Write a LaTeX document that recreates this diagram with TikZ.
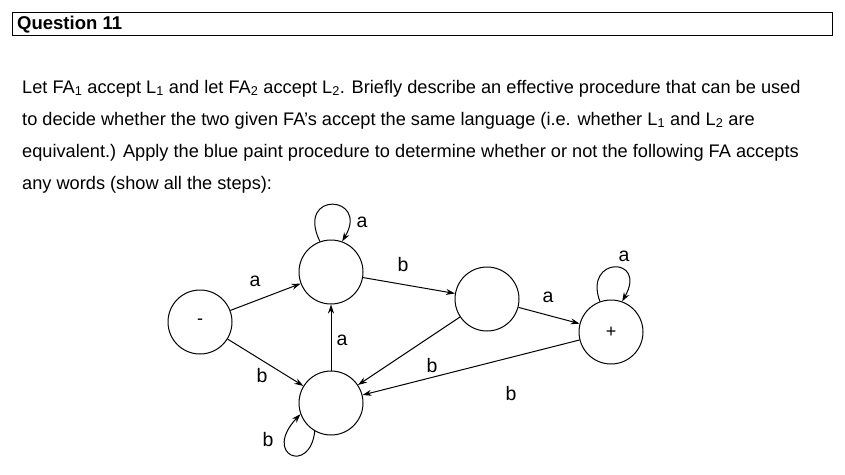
\documentclass[tikz,border=0pt]{standalone}
\usepackage{fontspec}
\setmainfont{Liberation Sans}
\usetikzlibrary{arrows.meta}
\begin{document}
\begin{tikzpicture}[x=1pt,y=-1pt,
  st/.style={draw,circle,minimum size=64pt,inner sep=0pt,line width=1pt,font=\fontsize{18}{20}\selectfont},
  tr/.style={line width=1pt,-{Stealth[length=9pt,width=6pt]}},
  lb/.style={font=\fontsize{19.5}{21}\selectfont,inner sep=0pt},
  txt/.style={anchor=base west,inner sep=0pt,font=\fontsize{18.2}{20}\selectfont}]
\useasboundingbox (0,0) rectangle (845,474);
\draw[line width=0.8pt] (12,12) rectangle (832,35);
\node[txt,font=\bfseries\fontsize{18.5}{20}\selectfont] (title) at (17,29) {Question 11};
\node[txt] (l1) at (22,93) {Let FA\textsubscript{1} accept L\textsubscript{1} and let FA\textsubscript{2} accept L\textsubscript{2}. Briefly describe an effective procedure that can be used};
\node[txt] (l2) at (22,125) {to decide whether the two given FA’s accept the same language (i.e. whether L\textsubscript{1} and L\textsubscript{2} are};
\node[txt] (l3) at (22,157) {equivalent.) Apply the blue paint procedure to determine whether or not the following FA accepts};
\node[txt] (l4) at (22,189) {any words (show all the steps):};
\node[st] (s) at (200,322) {-};
\node[st] (t) at (331,272) {};
\node[st] (m) at (487,299) {};
\node[st] (p) at (611,332) {+};
\node[st] (b) at (331,403) {};
\draw[tr] (s) -- (t);
\draw[tr] (s) -- (b);
\draw[tr] (b) -- (t);
\draw[tr] (t) -- (m);
\draw[tr] (m) -- (b);
\draw[tr] (m) -- (p);
\draw[tr] (p) -- (b);
\draw[tr] (t.110) .. controls (295,190) and (370,195) .. (t.70);
\draw[tr] (p.110) .. controls (583,256) and (648,256) .. (p.70);
\draw[tr] (b.240) .. controls (310,475) and (262,455) .. (b.200);
\node[lb] (la1) at (362,222) {a};
\node[lb] (la2) at (255,281) {a};
\node[lb] (lb1) at (262,376) {b};
\node[lb] (la3) at (342,340) {a};
\node[lb] (lb2) at (403,265) {b};
\node[lb] (lb3) at (432,366) {b};
\node[lb] (la4) at (548,297) {a};
\node[lb] (la5) at (624,256) {a};
\node[lb] (lb4) at (511,394) {b};
\node[lb] (lb5) at (268,440) {b};
\end{tikzpicture}
\end{document}
